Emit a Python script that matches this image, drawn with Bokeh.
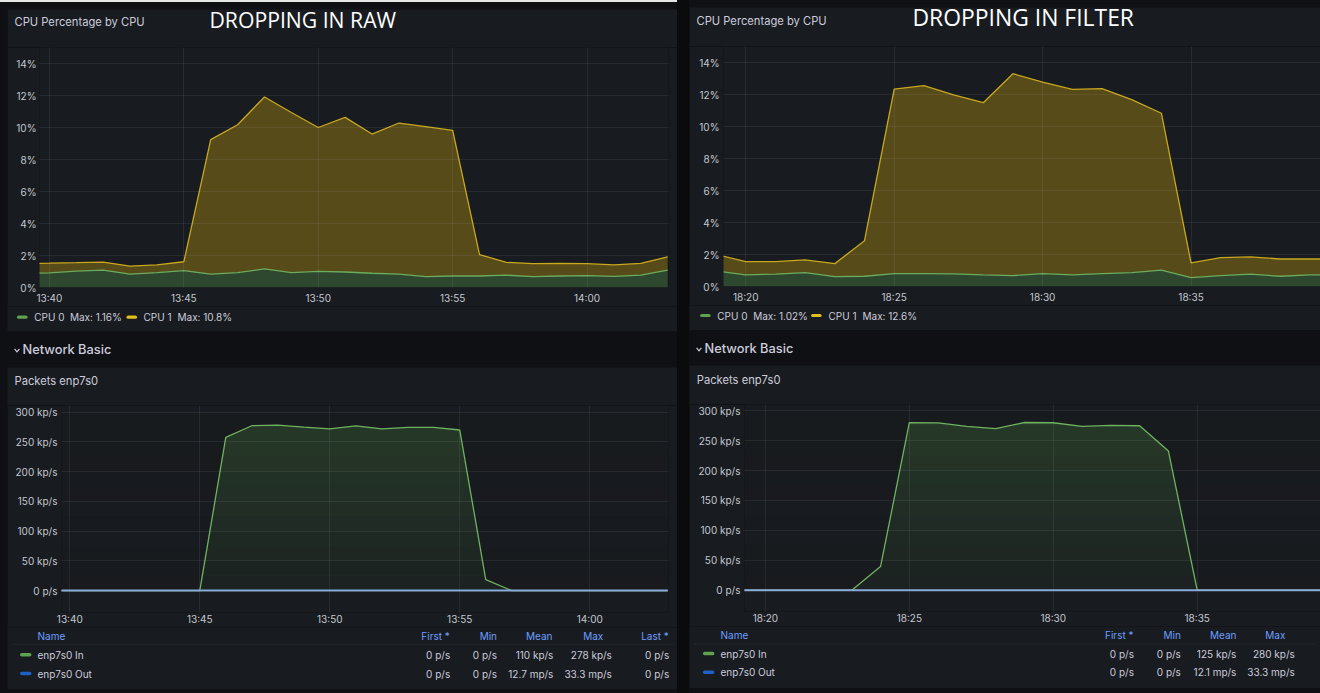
from bokeh.plotting import figure
from bokeh.models import Label, BoxAnnotation, Range1d, FixedTicker, Div, ColumnDataSource
from bokeh.layouts import row, column
from bokeh.embed import file_html
from bokeh.resources import INLINE

# ------------------------------------------------------------------ data
cpu_title = "CPU Percentage by CPU"
pkt_title = "Packets enp7s0"
section_title = "Network Basic"
raw_heading = "DROPPING IN RAW"
filter_heading = "DROPPING IN FILTER"
cpu_series = ["CPU 0", "CPU 1"]
pkt_series = ["enp7s0 In", "enp7s0 Out"]

# left dashboard (13:39 .. 14:03)
raw_times = ["13:39", "13:40", "13:41", "13:42", "13:43", "13:44", "13:45", "13:46", "13:47",
             "13:48", "13:49", "13:50", "13:51", "13:52", "13:53", "13:54", "13:55", "13:56",
             "13:57", "13:58", "13:59", "14:00", "14:01", "14:02", "14:03"]
raw_cpu0 = [0.85, 0.92, 1.02, 1.08, 0.83, 0.93, 1.06, 0.83, 0.93, 1.16, 0.93, 1.01, 0.97,
            0.89, 0.83, 0.68, 0.72, 0.72, 0.77, 0.68, 0.72, 0.74, 0.70, 0.77, 1.08]
raw_cpu1 = [0.65, 0.60, 0.53, 0.51, 0.51, 0.48, 0.55, 8.41, 9.24, 10.75, 10.01, 8.99, 9.66,
            8.70, 9.45, 9.37, 9.10, 1.33, 0.80, 0.81, 0.79, 0.75, 0.71, 0.74, 0.84]
raw_in = [0, 0, 0, 0, 0, 0, 0, 257.7, 277.2, 278.3, 275.0, 272.0, 277.0, 272.0, 274.4,
          274.4, 270.0, 18.4, 0, 0, 0, 0, 0, 0, 0]
raw_out = [0, 0, 0, 0, 0, 0, 0, 0.00003, 0.00003, 0.00003, 0.00003, 0.00003, 0.00003,
           0.00003, 0.00003, 0.00003, 0.00003, 0, 0, 0, 0, 0, 0, 0, 0]
raw_cpu_legend = ["Max: 1.16%", "Max: 10.8%"]
raw_xticks = ["13:40", "13:45", "13:50", "13:55", "14:00"]
raw_table_cols = ["First *", "Min", "Mean", "Max", "Last *"]
raw_table_in = ["0 p/s", "0 p/s", "110 kp/s", "278 kp/s", "0 p/s"]
raw_table_out = ["0 p/s", "0 p/s", "12.7 mp/s", "33.3 mp/s", "0 p/s"]

# right dashboard (18:19 .. 18:40)
flt_times = ["18:19", "18:20", "18:21", "18:22", "18:23", "18:24", "18:25", "18:26", "18:27",
             "18:28", "18:29", "18:30", "18:31", "18:32", "18:33", "18:34", "18:35", "18:36",
             "18:37", "18:38", "18:39", "18:40"]
flt_cpu0 = [0.97, 0.73, 0.77, 0.87, 0.62, 0.64, 0.81, 0.81, 0.79, 0.73, 0.68, 0.81, 0.73,
            0.81, 0.87, 1.02, 0.56, 0.68, 0.77, 0.64, 0.73, 0.73]
flt_cpu1 = [1.03, 0.83, 0.79, 0.79, 0.81, 2.22, 11.53, 11.74, 11.18, 10.76, 12.62, 11.97,
            11.59, 11.56, 10.81, 9.81, 0.91, 1.12, 1.08, 1.08, 0.99, 0.99]
flt_in = [0, 0, 0, 0, 0, 39.6, 280.0, 279.8, 273.8, 270.0, 280.4, 280.0, 273.8, 275.5,
          275.0, 232.6, 0, 0, 0, 0, 0, 0]
flt_out = [0, 0, 0, 0, 0, 0.00003, 0.00003, 0.00003, 0.00003, 0.00003, 0.00003, 0.00003,
           0.00003, 0.00003, 0.00003, 0.00003, 0, 0, 0, 0, 0, 0]
flt_cpu_legend = ["Max: 1.02%", "Max: 12.6%"]
flt_xticks = ["18:20", "18:25", "18:30", "18:35"]
flt_table_cols = ["First *", "Min", "Mean", "Max"]
flt_table_in = ["0 p/s", "0 p/s", "125 kp/s", "280 kp/s"]
flt_table_out = ["0 p/s", "0 p/s", "12.1 mp/s", "33.3 mp/s"]

cpu_yticks = [0, 2, 4, 6, 8, 10, 12, 14]
cpu_ylabels = ["0%", "2%", "4%", "6%", "8%", "10%", "12%", "14%"]
pkt_yticks = [0, 50, 100, 150, 200, 250, 300]
pkt_ylabels = ["0 p/s", "50 kp/s", "100 kp/s", "150 kp/s", "200 kp/s", "250 kp/s", "300 kp/s"]

# ------------------------------------------------------------------ styles
PAGE = "#0f1013"
GAP = "#0a0b0d"
PANEL = "#181b1f"
TXT = "#ccccdc"
AX = "#c3c7d0"
GRID = "rgba(204,204,220,0.09)"
HDR = "#6e9fff"
G_LINE, G_FILL = "#6dab5c", "#2e472f"
Y_LINE, Y_FILL = "#c8a81e", "#564b19"
IN_LINE, IN_FILL = "#6fb25f", "#283c2a"
OUT_LINE = "#86a9d9"
SW_G, SW_Y, SW_B = "#5fa24f", "#e0c01f", "#1f60c4"


def minutes(t, base):
    h, m = t.split(":")
    return (int(h) - base) * 60 + int(m)


def chart_fig(W, H, L, R, T, B, xr, yr, margin):
    p = figure(width=W, height=H, x_range=Range1d(*xr), y_range=Range1d(*yr),
               output_backend="svg", toolbar_location=None, frame_align=False,
               min_border_left=L, min_border_right=R, min_border_top=T, min_border_bottom=B,
               background_fill_color=PANEL, border_fill_color=PANEL, outline_line_color=None)
    p.margin = margin
    p.grid.level = "overlay"
    p.grid.grid_line_color = GRID
    for ax in p.axis:
        ax.axis_line_color = None
        ax.major_tick_line_color = None
        ax.minor_tick_line_color = None
        ax.major_tick_out = 0
        ax.major_tick_in = 0
        ax.major_label_text_color = AX
        ax.major_label_text_font = "Inter"
        ax.major_label_text_font_size = "10px"
    return p


def strip_fig(W, H, margin, panel_top=0):
    """A text strip; rows above panel_top show the page background."""
    p = figure(width=W, height=H, x_range=Range1d(0, W), y_range=Range1d(H, 0),
               output_backend="svg", toolbar_location=None, frame_align=False,
               x_axis_location=None, y_axis_location=None,
               min_border_left=0, min_border_right=0, min_border_top=0, min_border_bottom=0,
               background_fill_color=PAGE if panel_top else PANEL,
               border_fill_color=PAGE if panel_top else PANEL, outline_line_color=None)
    p.margin = margin
    p.grid.visible = False
    if panel_top:
        p.add_layout(BoxAnnotation(left=0, right=W, top=panel_top, bottom=H, fill_color=PANEL,
                                   fill_alpha=1, line_color=None, level="underlay"))
    return p


def txt(p, x, y, text, size, color=TXT, align="left", font="Inter"):
    p.add_layout(Label(x=x, y=y, text=text, text_align=align, text_baseline="middle",
                       text_font=font, text_font_size=f"{size}px", text_color=color))


def swatch(p, x0, x1, yc, hh, color):
    p.add_layout(BoxAnnotation(left=x0, right=x1, top=yc - hh, bottom=yc + hh,
                               fill_color=color, fill_alpha=1, line_color=None,
                               border_radius=2))


def set_axes(p, base, xticks, yticks, ylabels, xstand, ystand):
    xt = [minutes(t, base) for t in xticks]
    p.xaxis.ticker = FixedTicker(ticks=xt)
    p.xaxis.major_label_overrides = {v: t for v, t in zip(xt, xticks)}
    p.yaxis.ticker = FixedTicker(ticks=yticks)
    p.yaxis.major_label_overrides = {v: t for v, t in zip(yticks, ylabels)}
    p.xaxis.major_label_standoff = xstand
    p.yaxis.major_label_standoff = ystand


def cpu_panel(W, x_off, top_h, ch, L, R, B, leg_h, base, times, c0, c1, xr, xticks,
              heading, hx, hy, hsize, tpos, legend_vals, leg, ystand, xstand):
    top = strip_fig(W, top_h, (0, 0, 0, x_off), panel_top=7)
    txt(top, tpos[0], tpos[1], cpu_title, 11.2)
    txt(top, hx, hy, heading, hsize, color="#ffffff", font="Open Sans")

    p = chart_fig(W, ch, L, R, 0, B, xr, (0, 15), (0, 0, 0, x_off))
    src = ColumnDataSource(dict(x=[minutes(t, base) for t in times], cpu0=c0, cpu1=c1))
    p.varea_stack(["cpu0", "cpu1"], x="x", source=src, fill_color=[G_FILL, Y_FILL])
    p.vline_stack(["cpu0", "cpu1"], x="x", source=src, line_color=[G_LINE, Y_LINE], line_width=1.3)
    set_axes(p, base, xticks, cpu_yticks, cpu_ylabels, xstand, ystand)

    bot = strip_fig(W, leg_h, (0, 0, 0, x_off))
    ly, sw0, n0, m0, sw1, n1, m1 = leg
    swatch(bot, sw0, sw0 + 10.5, ly, 1.6, SW_G)
    txt(bot, n0, ly, cpu_series[0], 10)
    txt(bot, m0, ly, legend_vals[0], 10)
    swatch(bot, sw1, sw1 + 10.5, ly, 1.6, SW_Y)
    txt(bot, n1, ly, cpu_series[1], 10)
    txt(bot, m1, ly, legend_vals[1], 10)
    return [top, p, bot]


def pkt_panel(W, x_off, top_h, ch, L, R, B, tab_h, base, times, vin, vout, xr, yr, xticks,
              tpos, cols, tin, tout, tab, ystand, xstand, bottom_margin):
    top = strip_fig(W, top_h, (0, 0, 0, x_off))
    txt(top, tpos[0], tpos[1], pkt_title, 11.2)

    p = chart_fig(W, ch, L, R, 0, B, xr, yr, (0, 0, 0, x_off))
    x = [minutes(t, base) for t in times]
    p.varea(x=x, y1=0, y2=vin, fill_color=IN_FILL)
    nb = 12
    for k in range(nb):
        p.quad(left=xr[0], right=xr[1], bottom=300 * k / nb, top=300 * (k + 1) / nb,
               fill_color=PANEL, fill_alpha=0.82 * (1 - (k + 0.5) / nb), line_color=None)
    p.line(x=x, y=vin, line_color=IN_LINE, line_width=1.3)
    p.line(x=x, y=vout, line_color=OUT_LINE, line_width=2)
    set_axes(p, base, xticks, pkt_yticks, pkt_ylabels, xstand, ystand)

    bot = strip_fig(W, tab_h, (0, 0, bottom_margin, x_off))
    hy, sep, r1, r2, swx, namex, colx, hdrx = tab
    txt(bot, namex, hy, "Name", 10, color=HDR)
    for c, xh in zip(cols, hdrx):
        txt(bot, xh, hy, c, 10, color=HDR, align="right")
    bot.add_layout(BoxAnnotation(left=4, right=W - 4, top=sep, bottom=sep + 1,
                                 fill_color="#23262b", fill_alpha=1, line_color=None))
    swatch(bot, swx, swx + 11.5, r1, 1.7, SW_G)
    swatch(bot, swx, swx + 11.5, r2, 1.7, SW_B)
    txt(bot, namex, r1, pkt_series[0], 10)
    txt(bot, namex, r2, pkt_series[1], 10)
    for v, xc in zip(tin, colx):
        txt(bot, xc, r1, v, 10, align="right")
    for v, xc in zip(tout, colx):
        txt(bot, xc, r2, v, 10, align="right")
    return [top, p, bot]


def header_div(w, h, pad):
    html = (f'<div style="display:flex;align-items:center;box-sizing:border-box;height:{h}px;'
            f'padding-top:3px;padding-left:{pad}px;'
            f'font-family:Inter;font-size:12.8px;font-weight:500;color:{TXT};white-space:nowrap">'
            f'<svg width="6" height="5" style="margin-right:2.5px">'
            f'<polyline points="0.6,0.8 3,3.8 5.4,0.8" fill="none" stroke="{TXT}" stroke-width="1.2"/>'
            f'</svg>{section_title}</div>')
    return Div(text=html, width=w, height=h, margin=(0, 0, 0, 0),
               styles={"background-color": PAGE})


# ------------------------------------------------------------------ panels
A = cpu_panel(670, 7, 45, 259, 32, 9, 18, 25, 13, raw_times, raw_cpu0, raw_cpu1,
              (39.63, 63.03), raw_xticks, raw_heading, 202, 17, 21.2, (7, 19.7),
              raw_cpu_legend, (10.7, 9.5, 26.8, 62.4, 119, 136, 170), 3, 4)
C = cpu_panel(631, 0, 46, 259, 34, 0, 18, 25, 18, flt_times, flt_cpu0, flt_cpu1,
              (19.25, 39.36), flt_xticks, filter_heading, 223, 16.7, 22.9, (7, 20.3),
              flt_cpu_legend, (10, 10.6, 27.7, 63.7, 121.6, 139, 173), 4, 4)
B = pkt_panel(670, 7, 38, 222, 54, 9, 14, 62, 13, raw_times, raw_in, raw_out,
              (39.68, 63.03), (-36.8, 311.2), raw_xticks, (7, 13),
              raw_table_cols, raw_table_in, raw_table_out,
              (8.7, 16.3, 27.3, 46, 12.5, 30,
               [442.7, 489.5, 545.9, 604.4, 661.7], [442.3, 489.5, 545.0, 595.8, 661.3]),
              4, 0, 4)
D = pkt_panel(631, 0, 39, 222, 55, 0, 15, 62, 18, flt_times, flt_in, flt_out,
              (19.274, 39.283), (-35.6, 310.5), flt_xticks, (7.3, 14),
              flt_table_cols, flt_table_in, flt_table_out,
              (8.3, 17, 27, 45.7, 13.4, 31,
               [444.5, 491.4, 546.9, 605.3], [444.0, 491.4, 546.9, 595.9]),
              4, 0, 5)

white = Div(text="", width=677, height=2, margin=(0, 0, 0, 0),
            styles={"background-color": "#e6e6e6"})
left_col = column(white, *A, header_div(677, 36, 14), *B, spacing=0,
                  styles={"background-color": PAGE})
gap = Div(text="", width=12, height=693, margin=(0, 0, 0, 0), styles={"background-color": GAP})
right_col = column(*C, header_div(631, 35, 7), *D, spacing=0,
                   styles={"background-color": PAGE})
root = row(left_col, gap, right_col, spacing=0, styles={"background-color": PAGE})

open("out.html", "w").write(file_html(root, INLINE))
